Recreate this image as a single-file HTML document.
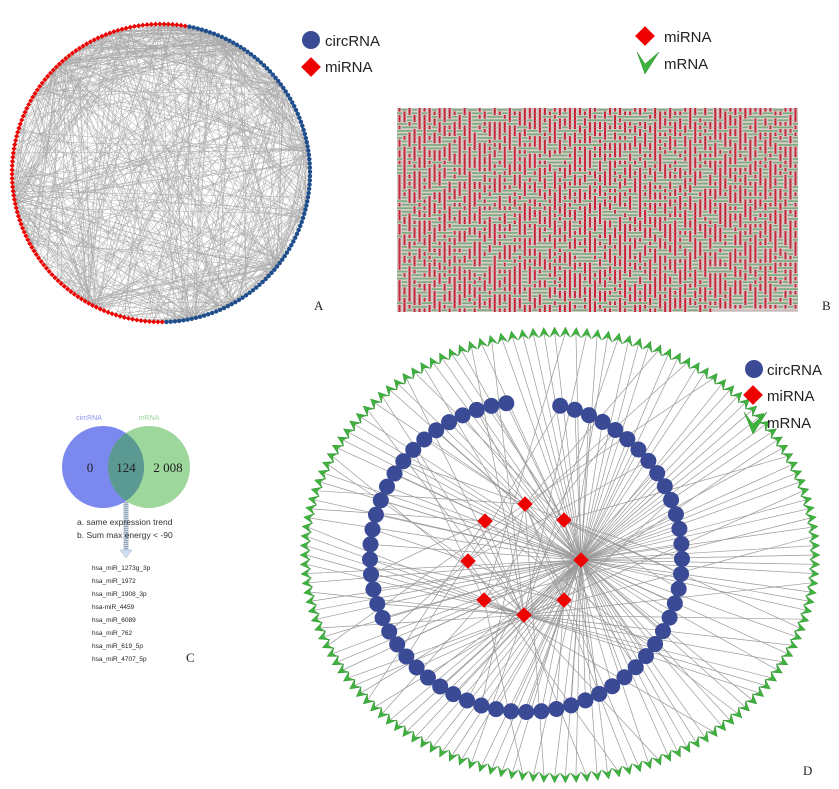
<!DOCTYPE html>
<html><head><meta charset="utf-8">
<style>
html,body{margin:0;padding:0;background:#fff;}
body{width:839px;height:789px;overflow:hidden;position:relative;font-family:"Liberation Sans",sans-serif;}
svg{position:absolute;left:0;top:0;}
</style></head><body>
<svg id="s" width="839" height="789" viewBox="0 0 839 789" xmlns="http://www.w3.org/2000/svg">
<defs><pattern id="dots" width="5" height="2" patternUnits="userSpaceOnUse"><rect width="5" height="1" fill="#9aa9b9"/></pattern></defs>
<g id="A"></g>
<g id="B"></g>
<g id="D"></g>
<!-- legends -->
<circle cx="311" cy="40" r="9" fill="#3b4a94"/>
<text x="325" y="46" font-size="15" fill="#222">circRNA</text>
<rect x="304" y="60" width="14" height="14" fill="#e00" transform="rotate(45 311 67)"/>
<text x="325" y="72" font-size="15" fill="#222">miRNA</text>
<rect x="638" y="29" width="14" height="14" fill="#e00" transform="rotate(45 645 36)"/>
<text x="664" y="42" font-size="15" fill="#222">miRNA</text>
<path d="M637 52 L645 74 L659 52 L645 64 Z" fill="#3db33d" stroke="#2a8a2a" stroke-width="0.5"/>
<text x="664" y="69" font-size="15" fill="#222">mRNA</text>
<g id="legD">
<circle cx="754" cy="369" r="9" fill="#3b4a94"/>
<text x="767" y="375" font-size="15" fill="#222">circRNA</text>
<rect x="746" y="388" width="14" height="14" fill="#e00" transform="rotate(45 753 395)"/>
<text x="767" y="401" font-size="15" fill="#222">miRNA</text>
<path d="M744 412 L753 434 L767 412 L753 424 Z" fill="#3db33d" stroke="#2a8a2a" stroke-width="0.5"/>
<text x="767" y="428" font-size="15" fill="#222">mRNA</text>
</g>
<!-- letters -->
<text x="314" y="310" font-family="Liberation Serif" font-size="13" fill="#222">A</text>
<text x="822" y="310" font-family="Liberation Serif" font-size="13" fill="#222">B</text>
<text x="186" y="662" font-family="Liberation Serif" font-size="13" fill="#222">C</text>
<text x="803" y="775" font-family="Liberation Serif" font-size="13" fill="#222">D</text>
<!-- Venn -->
<text x="89" y="420" font-size="7" fill="#8a95f0" text-anchor="middle">circRNA</text>
<text x="149" y="420" font-size="7" fill="#9ad49a" text-anchor="middle">mRNA</text>
<circle cx="103" cy="467" r="41" fill="#7b88ee"/>
<circle cx="149" cy="467" r="41" fill="#9ed79c"/>
<path d="M126 433 A41 41 0 0 1 126 501 A41 41 0 0 1 126 433Z" fill="#5a9a92"/>
<text x="90" y="472" font-family="Liberation Serif" font-size="13" fill="#222" text-anchor="middle">0</text>
<text x="126" y="472" font-family="Liberation Serif" font-size="13" fill="#222" text-anchor="middle">124</text>
<text x="168" y="472" font-family="Liberation Serif" font-size="13" fill="#222" text-anchor="middle">2 008</text>
<rect x="123.5" y="502" width="5" height="49" fill="#c4d4e4"/>
<rect x="123.5" y="502" width="5" height="49" fill="url(#dots)"/>
<path d="M120 550 L132 550 L126 558 Z" fill="#cfe0f4" stroke="#9ab" stroke-width="0.5"/>
<text x="77" y="525" font-size="8.5" fill="#333">a. same expression trend</text>
<text x="77" y="538" font-size="8.5" fill="#333">b. Sum max energy &lt; -90</text>
<g font-size="6.5" fill="#222">
<text x="92" y="570">hsa_miR_1273g_3p</text>
<text x="92" y="583">hsa_miR_1972</text>
<text x="92" y="596">hsa_miR_1908_3p</text>
<text x="92" y="609">hsa-miR_4459</text>
<text x="92" y="622">hsa_miR_6089</text>
<text x="92" y="635">hsa_miR_762</text>
<text x="92" y="648">hsa_miR_619_5p</text>
<text x="92" y="661">hsa_miR_4707_5p</text>
</g>
</svg>
<script>
var seed=7;function r(){seed=(seed*16807)%2147483647;return seed/2147483647;}
var NS="http://www.w3.org/2000/svg";
function el(g,t,a){var e=document.createElementNS(NS,t);for(var k in a)e.setAttribute(k,a[k]);g.appendChild(e);return e;}
// Panel A
(function(){
var g=document.getElementById("A"),cx=161,cy=173,R=149,N=220,pts=[];
var split=Math.round(N*169/360);
for(var i=0;i<N;i++){var a=(-79+i*360/N)*Math.PI/180;pts.push([cx+R*Math.cos(a),cy+R*Math.sin(a),(i<split)]);}
var lines=g.appendChild(document.createElementNS(NS,"g"));lines.setAttribute("stroke","#8c8c8c");lines.setAttribute("stroke-width","0.45");lines.setAttribute("opacity","0.75");
var hubs=[3,10,25,40,55,70,85,95,118,150,185,200,212];
for(var j=0;j<700;j++){
 var p=pts[Math.floor(r()*N)];
 var h=hubs[Math.floor(r()*hubs.length)];
 var q=pts[(h+Math.floor(r()*5))%N];
 el(lines,"line",{x1:p[0],y1:p[1],x2:q[0],y2:q[1]});}
for(var i=0;i<N;i++){var p=pts[i];
 if(p[2]) el(g,"circle",{cx:p[0],cy:p[1],r:2.2,fill:"#1f4e8c"});
 else el(g,"rect",{x:p[0]-1.8,y:p[1]-1.8,width:3.6,height:3.6,fill:"#e00",transform:"rotate(45 "+p[0]+" "+p[1]+")"});}
})();
// Panel B
(function(){
var g=document.getElementById("B"),x0=397,y0=108,W=401,H=204,rows=58,cols=80;
el(g,"rect",{x:x0,y:y0,width:W,height:H,fill:"#d8cccc"});
for(var i=0;i<rows;i++){var y=y0+i*H/rows;
 for(var c=0;c<cols;c++){var x=x0+c*W/cols;
  if(i==rows-1&&c>62)continue;
  if(r()<0.6) el(g,"rect",{x:x+1.5,y:y,width:2,height:3.5,fill:"#cc1526"});
  else el(g,"rect",{x:x,y:y+0.9,width:5,height:1.7,fill:"#6fae6f"});}
 el(g,"line",{x1:x0,y1:y+1.75,x2:x0+W,y2:y+1.75,stroke:"#a0a0a0",'stroke-width':0.4});}
})();
// Panel D
(function(){
var g=document.getElementById("D");
var mi=[[525,504],[485,521],[564,520],[468,561],[581,560],[484,600],[564,600],[524,615]];
var green=[],blue=[],NG=150,NB=62;
for(var i=0;i<NG;i++){var a=i*2*Math.PI/NG;green.push([560+254*Math.cos(a),555+222*Math.sin(a),a]);}
for(var i=0;i<NB;i++){var a=-1.35+i*(2*Math.PI-0.25)/NB;blue.push([526+156*Math.cos(a),557+155*Math.sin(a)]);}
var L=g.appendChild(document.createElementNS(NS,"g"));L.setAttribute("stroke","#999");L.setAttribute("stroke-width","0.7");
for(var i=0;i<NG;i++){var m=r()<0.5?mi[4]:(r()<0.5?mi[7]:mi[Math.floor(r()*8)]);var p=green[i];
 el(L,"line",{x1:p[0],y1:p[1],x2:m[0],y2:m[1]});}
for(var i=0;i<NB;i++){var m=r()<0.5?mi[4]:mi[Math.floor(r()*8)];var p=blue[i];
 el(L,"line",{x1:p[0],y1:p[1],x2:m[0],y2:m[1]});}
for(var i=0;i<NG;i++){var p=green[i],a=p[2]*180/Math.PI+90;
 el(g,"path",{d:"M-5 -4 L0 6 L5 -4 L0 0Z",fill:"#3db33d",stroke:"#2a8a2a","stroke-width":0.4,transform:"translate("+p[0]+" "+p[1]+") rotate("+(a-180)+")"});}
for(var i=0;i<NB;i++){el(g,"circle",{cx:blue[i][0],cy:blue[i][1],r:8,fill:"#3b4a94"});}
for(var i=0;i<8;i++){var m=mi[i];el(g,"rect",{x:m[0]-5.5,y:m[1]-5.5,width:11,height:11,fill:"#e00",transform:"rotate(45 "+m[0]+" "+m[1]+")"});}
})();
</script>
</body></html>
